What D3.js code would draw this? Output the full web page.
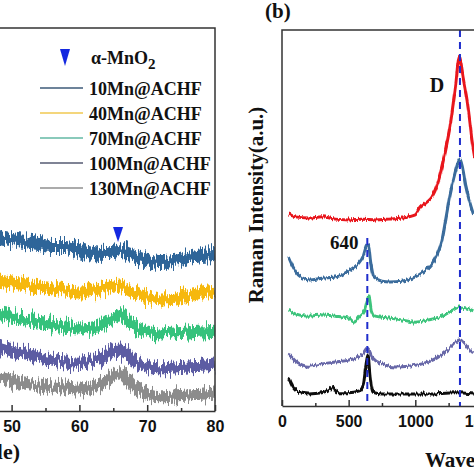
<!DOCTYPE html>
<html>
<head>
<meta charset="utf-8">
<script src="https://cdn.jsdelivr.net/npm/d3@7"></script>
<style>
  body { margin: 0; background: #fff; }
  svg { display: block; }
  .tick text { font-family: "Liberation Sans", Arial, sans-serif; font-weight: bold; font-size: 16px; }
</style>
</head>
<body>
<div id="chart"></div>
<script>
// --------------------------------------
//  Data
// --------------------------------------

// (a) XRD, 2θ in degrees, intensity in a.u. (0-100 over the panel height)
const xrdAngle = [48, 50, 52, 54, 56, 58, 60, 62, 64, 65, 66, 67, 68, 70, 72, 74, 76, 78, 80];
const xrd10  = [45.2, 44.6, 44.1, 43.6, 43.1, 43.1, 42.0, 41.3, 41.0, 41.5, 42.0, 41.3, 40.5, 39.4, 38.9, 39.2, 39.9, 40.7, 41.0];
const xrd40  = [34.2, 33.7, 33.2, 32.4, 31.9, 31.3, 30.8, 31.3, 32.1, 32.6, 32.9, 32.1, 31.1, 29.8, 29.0, 29.2, 30.0, 30.8, 31.3];
const xrd70  = [25.3, 24.5, 23.8, 23.2, 22.5, 21.9, 21.4, 21.7, 23.2, 24.5, 25.1, 23.8, 22.2, 20.6, 20.1, 20.4, 20.6, 20.9, 21.1];
const xrd100 = [16.7, 15.7, 14.9, 14.1, 13.3, 12.8, 12.5, 13.1, 14.6, 15.7, 15.9, 14.9, 13.3, 11.7, 11.0, 11.2, 11.5, 11.7, 12.0];
const xrd130 = [8.9, 8.1, 7.3, 6.8, 6.3, 6.0, 5.7, 6.3, 7.8, 9.1, 9.7, 8.4, 6.5, 4.4, 3.7, 3.9, 4.2, 4.4, 4.7];

const xrdNames  = ["10Mn@ACHF", "40Mn@ACHF", "70Mn@ACHF", "100Mn@ACHF", "130Mn@ACHF"];
const mno2Peaks = [65.7];
const xrdTicks  = [50, 60, 70, 80];
const xrdMinor  = [55, 65, 75];

// (b) Raman, shift in cm-1, intensity in a.u. (0-100 over the panel height)
const shiftRed = [50, 100, 200, 300, 400, 500, 600, 700, 800, 900, 1000, 1035, 1080, 1125, 1165, 1200, 1230, 1260, 1285, 1305, 1320, 1330, 1340, 1358, 1388, 1405, 1425, 1445];
const ramanRed = [51.1, 50.3, 50.0, 50.3, 49.7, 49.5, 49.7, 49.5, 49.7, 50.0, 50.8, 52.7, 54.0, 55.6, 58.8, 63.6, 68.6, 74.2, 80.6, 85.9, 91.2, 92.8, 91.5, 87.5, 81.4, 76.9, 70.7, 66.2];

const shiftBlue = [50, 80, 130, 210, 300, 400, 510, 570, 610, 635, 648, 665, 690, 750, 810, 900, 980, 1050, 1125, 1165, 1200, 1230, 1260, 1298, 1320, 1335, 1355, 1380, 1410, 1435];
const ramanBlue = [39.6, 37.2, 34.6, 33.5, 34.0, 34.3, 36.2, 37.8, 39.9, 42.6, 42.8, 38.3, 34.3, 33.2, 33.0, 33.2, 34.0, 35.4, 37.8, 40.4, 44.1, 50.0, 56.1, 62.0, 64.6, 65.7, 63.3, 58.2, 54.0, 51.1];

const shiftGreen = [50, 100, 200, 300, 400, 500, 540, 580, 620, 640, 652, 670, 700, 800, 900, 1000, 1100, 1200, 1280, 1330, 1380, 1435];
const ramanGreen = [25.5, 24.5, 23.9, 24.2, 23.9, 23.4, 22.3, 23.9, 25.5, 28.2, 29.3, 25.5, 23.9, 23.4, 22.9, 22.3, 22.9, 23.9, 25.5, 26.3, 26.1, 25.3];

const shiftPurple = [50, 100, 200, 300, 400, 500, 600, 640, 680, 750, 850, 950, 1050, 1163, 1260, 1300, 1335, 1370, 1410, 1435];
const ramanPurple = [13.8, 12.0, 10.6, 11.2, 11.7, 12.2, 13.6, 15.4, 12.8, 11.2, 10.4, 10.6, 11.2, 12.8, 15.4, 16.8, 17.6, 16.5, 14.9, 14.1];

const shiftBlack = [50, 80, 120, 200, 300, 350, 380, 410, 500, 580, 610, 630, 645, 660, 680, 750, 900, 1100, 1300, 1440];
const ramanBlack = [7.4, 5.1, 3.7, 3.2, 3.5, 4.3, 5.1, 3.5, 3.5, 4.0, 5.6, 10.9, 13.6, 8.2, 3.7, 3.2, 3.2, 3.2, 3.5, 3.2];

const ramanBands = [640, 1335];
const ramanTicks = [0, 500, 1000, 1500];
const ramanMinor = [250, 750, 1250];

// --------------------------------------
//  Canvas
// --------------------------------------

const width = 474, height = 474;

const svg = d3.select("#chart")
  .append("svg")
    .attr("width", width)
    .attr("height", height)
    .attr("viewBox", [0, 0, width, height]);

const defs = svg.append("defs");

// vertical-only jitter to give the traces their noisy look
function noise(id, freq, scale) {
  const f = defs.append("filter")
      .attr("id", id)
      .attr("filterUnits", "userSpaceOnUse")
      .attr("x", -20).attr("y", 0)
      .attr("width", 520).attr("height", 474);
  f.append("feTurbulence")
      .attr("type", "fractalNoise")
      .attr("baseFrequency", freq)
      .attr("numOctaves", 2)
      .attr("seed", 7)
      .attr("result", "n");
  f.append("feColorMatrix")
      .attr("in", "n")
      .attr("type", "matrix")
      .attr("values", "0 0 0 0 0.5  0 1 0 0 0  0 0 0 0 0.5  0 0 0 0 1")
      .attr("result", "ny");
  f.append("feDisplacementMap")
      .attr("in", "SourceGraphic")
      .attr("in2", "ny")
      .attr("scale", scale)
      .attr("xChannelSelector", "R")
      .attr("yChannelSelector", "G");
}
noise("noiseXrd", "0.6 0.04", 20);
noise("noiseRaman", "0.6 0.05", 6);

const serif = "'Liberation Serif', 'Times New Roman', serif";

// --------------------------------------
//  Panel (a): XRD
// --------------------------------------

const ax = d3.scaleLinear().domain([10, 80]).range([-259.6, 215]);
const ay = d3.scaleLinear().domain([0, 100]).range([411, 28]);

const xrdColors = ["#2f6599", "#f6b80e", "#34c27b", "#5b5ba3", "#8c8c8c"];
const xrdLegendColors = ["#3c5a78", "#f0c850", "#63b9a4", "#555a72", "#8f8f8f"];
const xrdSeries = [xrd10, xrd40, xrd70, xrd100, xrd130];

const panelA = svg.append("g");

const xrdLine = d3.line()
    .x((d, i) => ax(xrdAngle[i]))
    .y(d => ay(d))
    .curve(d3.curveMonotoneX);

panelA.selectAll(".xrd")
  .data(xrdSeries)
  .join("path")
    .attr("class", "xrd")
    .attr("d", xrdLine)
    .attr("fill", "none")
    .attr("stroke", (d, i) => xrdColors[i])
    .attr("stroke-width", (d, i) => i === 0 ? 12 : 11)
    .attr("stroke-linejoin", "round")
    .attr("filter", "url(#noiseXrd)");

// frame
panelA.append("path")
    .attr("d", `M${ax(10)},${ay(100)}H${ax(80)}V${ay(0)}`)
    .attr("fill", "none")
    .attr("stroke", "#333")
    .attr("stroke-width", 1.5);

panelA.append("g")
    .attr("transform", `translate(0, ${ay(0)})`)
    .call(d3.axisBottom(ax).tickValues(xrdTicks).tickSize(-6).tickSizeOuter(0).tickPadding(10))
    .call(g => g.selectAll("line, path").attr("stroke", "#333").attr("stroke-width", 1.5))
    .call(g => g.selectAll("text").attr("fill", "#111"));

panelA.append("g")
    .attr("transform", `translate(0, ${ay(0)})`)
    .call(d3.axisBottom(ax).tickValues(xrdMinor).tickSize(-3).tickFormat(""))
    .call(g => g.select(".domain").remove())
    .call(g => g.selectAll("line").attr("stroke", "#333").attr("stroke-width", 1.5));

// α-MnO2 markers
panelA.selectAll(".mno2")
  .data(mno2Peaks)
  .join("path")
    .attr("class", "mno2")
    .attr("d", "M-5,0L5,0L0,15Z")
    .attr("transform", d => `translate(${ax(d)}, 227)`)
    .attr("fill", "#1428e0");

// legend
const legA = panelA.append("g");
legA.append("path")
    .attr("d", "M60,49L70,49L65,66Z")
    .attr("fill", "#1428e0");
legA.append("text")
    .attr("x", 91).attr("y", 64)
    .attr("font-family", serif).attr("font-weight", "bold").attr("font-size", 18)
    .attr("fill", "#111")
    .text("α-MnO")
  .append("tspan")
    .attr("dy", 5).attr("font-size", 15)
    .text("2");

legA.selectAll(".legline")
  .data(xrdNames)
  .join("line")
    .attr("class", "legline")
    .attr("x1", 40).attr("x2", 83)
    .attr("y1", (d, i) => 88 + i * 25)
    .attr("y2", (d, i) => 88 + i * 25)
    .attr("stroke", (d, i) => xrdLegendColors[i])
    .attr("stroke-width", 1.6);

legA.selectAll(".legtext")
  .data(xrdNames)
  .join("text")
    .attr("class", "legtext")
    .attr("x", 89)
    .attr("y", (d, i) => 95 + i * 25)
    .attr("font-family", serif).attr("font-weight", "bold").attr("font-size", 18)
    .attr("fill", "#111")
    .text(d => d);

panelA.append("text")
    .attr("x", 20).attr("y", 459)
    .attr("text-anchor", "end")
    .attr("font-family", serif).attr("font-weight", "bold").attr("font-size", 22)
    .attr("fill", "#111")
    .text("2θ (Angle)");

// --------------------------------------
//  Panel (b): Raman
// --------------------------------------

const bx = d3.scaleLinear().domain([0, 2000]).range([282, 282 + 2000 * 0.1333]);
const by = d3.scaleLinear().domain([0, 100]).range([406, 30]);

const ramanSeries = [
  { shift: shiftRed,    val: ramanRed,    color: "#e8151d" },
  { shift: shiftBlue,   val: ramanBlue,   color: "#3a6c9c" },
  { shift: shiftGreen,  val: ramanGreen,  color: "#3cc47c" },
  { shift: shiftPurple, val: ramanPurple, color: "#6767a8" },
  { shift: shiftBlack,  val: ramanBlack,  color: "#111111" }
];

const panelB = svg.append("g");

const ramanLine = d3.line()
    .x(d => bx(d[0]))
    .y(d => by(d[1]))
    .curve(d3.curveMonotoneX);

panelB.selectAll(".raman")
  .data(ramanSeries)
  .join("path")
    .attr("class", "raman")
    .attr("d", d => ramanLine(d.shift.map((s, i) => [s, d.val[i]])))
    .attr("fill", "none")
    .attr("stroke", d => d.color)
    .attr("stroke-width", 3)
    .attr("stroke-linejoin", "round")
    .attr("filter", "url(#noiseRaman)");

// dashed band markers
panelB.selectAll(".band")
  .data(ramanBands)
  .join("line")
    .attr("class", "band")
    .attr("x1", d => bx(d)).attr("x2", d => bx(d))
    .attr("y1", (d, i) => i === 0 ? 238 : by(100))
    .attr("y2", by(0))
    .attr("stroke", "#1e2ccc")
    .attr("stroke-width", 2)
    .attr("stroke-dasharray", "7,5");

// frame
panelB.append("path")
    .attr("d", `M${bx(2000)},${by(100)}H${bx(0)}V${by(0)}`)
    .attr("fill", "none")
    .attr("stroke", "#333")
    .attr("stroke-width", 1.5);

panelB.append("g")
    .attr("transform", `translate(0, ${by(0)})`)
    .call(d3.axisBottom(bx).tickValues(ramanTicks).tickFormat(d3.format("d")).tickSize(-6).tickSizeOuter(0).tickPadding(10))
    .call(g => g.selectAll("line, path").attr("stroke", "#333").attr("stroke-width", 1.5))
    .call(g => g.selectAll("text").attr("fill", "#111"));

panelB.append("g")
    .attr("transform", `translate(0, ${by(0)})`)
    .call(d3.axisBottom(bx).tickValues(ramanMinor).tickSize(-3).tickFormat(""))
    .call(g => g.select(".domain").remove())
    .call(g => g.selectAll("line").attr("stroke", "#333").attr("stroke-width", 1.5));

// labels
const lab = (x, y, txt, size, anchor) => panelB.append("text")
    .attr("x", x).attr("y", y)
    .attr("text-anchor", anchor || "middle")
    .attr("font-family", serif).attr("font-weight", "bold").attr("font-size", size)
    .attr("fill", "#111")
    .text(txt);

lab(265, 18, "(b)", 21, "start");
lab(437, 92, "D", 20);
lab(bx(640) - 23, 249, "640", 19);
lab(425, 467, "Wavenumber (cm⁻¹)", 21, "start");

panelB.append("text")
    .attr("transform", "translate(263, 205) rotate(-90)")
    .attr("text-anchor", "middle")
    .attr("font-family", serif).attr("font-weight", "bold").attr("font-size", 21)
    .attr("fill", "#111")
    .text("Raman Intensity(a.u.)");
</script>
</body>
</html>
